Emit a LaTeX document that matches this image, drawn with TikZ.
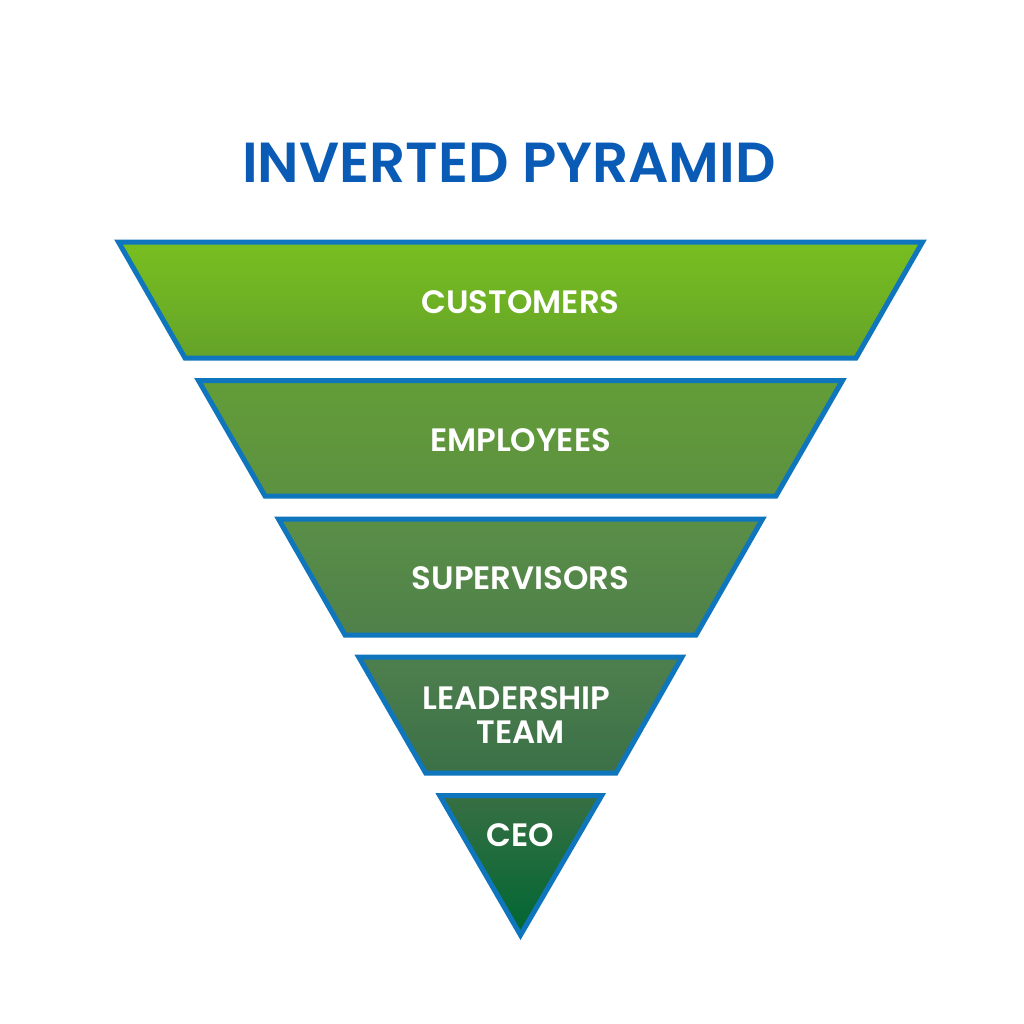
\documentclass[tikz,border=0pt]{standalone}
\usepackage{fontspec}
\usepackage{xcolor}
\usetikzlibrary{positioning}
\newfontfamily\popsemi{Poppins SemiBold}
\definecolor{mblue}{HTML}{0A5BB5}
\definecolor{medge}{HTML}{0F75BC}
\definecolor{gA}{HTML}{78BE20}
\definecolor{gB}{HTML}{64A229}
\definecolor{gC}{HTML}{639D37}
\definecolor{gD}{HTML}{5C9141}
\definecolor{gE}{HTML}{5A8F47}
\definecolor{gF}{HTML}{4F804A}
\definecolor{gG}{HTML}{4E7F4E}
\definecolor{gH}{HTML}{3B7047}
\definecolor{gI}{HTML}{376F43}
\definecolor{gJ}{HTML}{006633}
\tikzstyle{band}=[draw=medge, line width=0.05cm, line join=miter]
\tikzstyle{label}=[text=white, font=\popsemi\fontsize{9.2}{9.6}\selectfont, align=center, inner sep=0pt]
\tikzstyle{heading}=[text=mblue, font=\popsemi\fontsize{16.05}{20}\selectfont, inner sep=0pt]

\begin{document}
\begin{tikzpicture}[x=0.01cm, y=-0.01cm, node distance=1cm, on grid]

    \useasboundingbox[fill=white] (0,0) rectangle (1024,1024);

    \shade[band, top color=gA, bottom color=gB, middle color=gA!55!gB] (118.5,242) -- (922.5,242) -- (856,358) -- (185,358) -- cycle;
    \shade[band, top color=gC, bottom color=gD] (198.5,380.5) -- (842.5,380.5) -- (776,496) -- (265,496) -- cycle;
    \shade[band, top color=gE, bottom color=gF] (278.5,519) -- (762.5,519) -- (696,635) -- (345,635) -- cycle;
    \shade[band, top color=gG, bottom color=gH] (358.7,657) -- (682,657) -- (616,773) -- (425.7,773) -- cycle;
    \shade[band, top color=gI, bottom color=gJ] (439.7,795.5) -- (601.7,795.5) -- (520.5,935) -- cycle;

    \node (title) [heading] at (509,163) {INVERTED PYRAMID};

    \node (customers) [label] at (520.5,302) {CUSTOMERS};
    \node (employees) [label, below=1.38cm of customers] {EMPLOYEES};
    \node (supervisors) [label, below=1.38cm of employees] {SUPERVISORS};
    \node (leadership) [label, below=1.37cm of supervisors] {LEADERSHIP\kern2.2pt\\TEAM};
    \node (ceo) [label, below=1.2cm of leadership] {CEO};

\end{tikzpicture}
\end{document}
